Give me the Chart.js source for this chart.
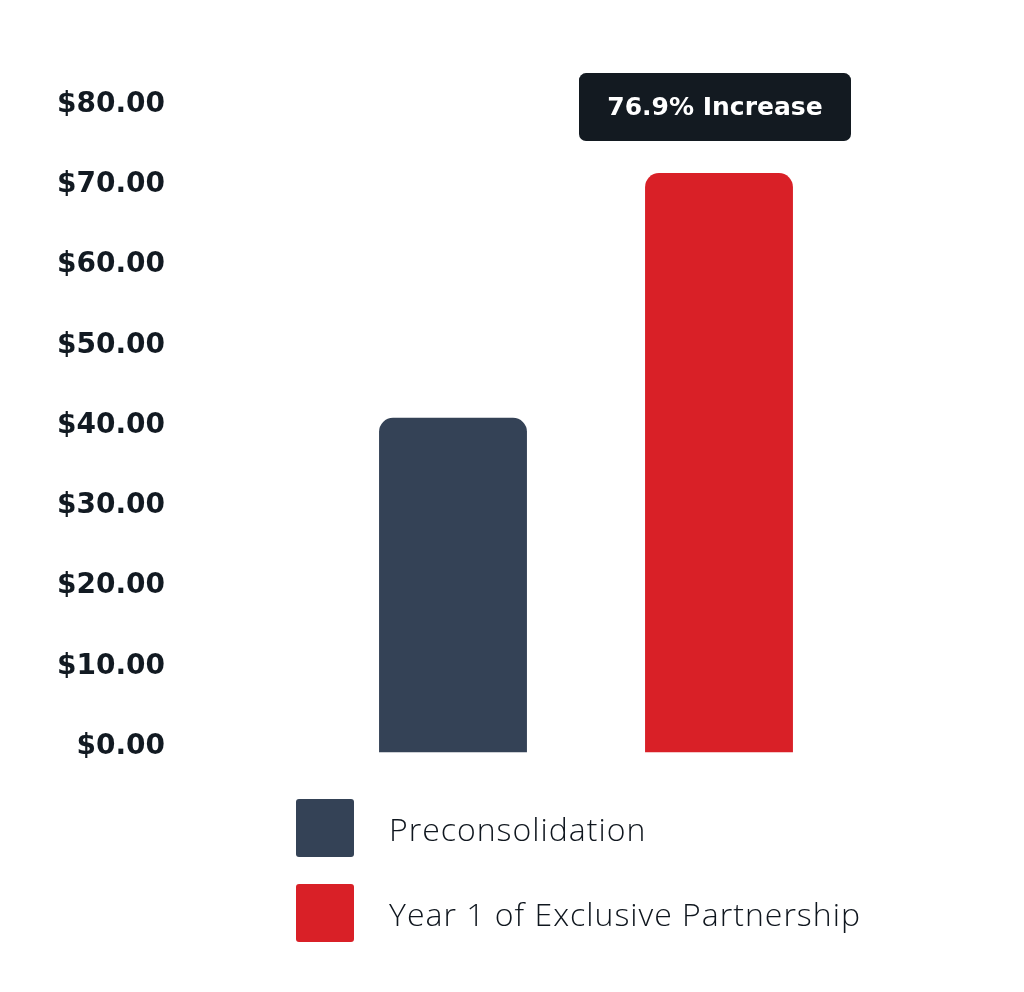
<!DOCTYPE html>
<html>
<head>
<meta charset="utf-8">
<script src="https://cdn.jsdelivr.net/npm/chart.js@4.4.1/dist/chart.umd.min.js"></script>
<style>
  html, body { margin: 0; padding: 0; background: #ffffff; }
  #wrap { position: relative; width: 1024px; height: 992px; }
  canvas { display: block; }
  #legend { position: absolute; left: 296px; top: 799px; font-family: "Open Sans", sans-serif; font-weight: 300; font-size: 32px; letter-spacing: 1px; color: #0f161e; }
  .item { display: flex; align-items: center; height: 58px; margin-bottom: 27px; }
  .sw { width: 58px; height: 58px; border-radius: 3px; margin-right: 35px; }
</style>
</head>
<body>
<div id="wrap">
  <canvas id="c" width="1024" height="992"></canvas>
  <div id="legend"></div>
</div>
<script>
const categories = ["Preconsolidation", "Year 1 of Exclusive Partnership"];
const values = [41.7, 72.2];
const barColors = ["#344256", "#d92027"];
const tickValues = [0, 10, 20, 30, 40, 50, 60, 70, 80];
const annotationText = "76.9% Increase";

const annotationPlugin = {
  id: "increaseLabel",
  afterDatasetsDraw(chart) {
    const bar = chart.getDatasetMeta(0).data[1];
    const ctx = chart.ctx;
    const w = 272, h = 68;
    const cx = bar.x - 4;
    const bottom = bar.y - 32;
    ctx.save();
    ctx.fillStyle = "#131a21";
    ctx.beginPath();
    ctx.roundRect(cx - w / 2, bottom - h, w, h, 7);
    ctx.fill();
    ctx.fillStyle = "#ffffff";
    ctx.font = "bold 25px 'DejaVu Sans'";
    ctx.textAlign = "center";
    ctx.textBaseline = "middle";
    ctx.fillText(annotationText, cx, bottom - h / 2 + 1);
    ctx.restore();
  }
};

new Chart(document.getElementById("c"), {
  type: "bar",
  data: {
    labels: categories,
    datasets: [{
      data: values,
      backgroundColor: barColors,
      borderRadius: 14,
      borderSkipped: "bottom",
      categoryPercentage: 1,
      barPercentage: 0.556
    }]
  },
  options: {
    responsive: false,
    animation: false,
    devicePixelRatio: 1,
    layout: { padding: { left: 0, right: 172, top: 110.5, bottom: 239.5 } },
    plugins: { legend: { display: false }, tooltip: { enabled: false } },
    scales: {
      x: { display: false },
      y: {
        min: 0,
        max: 80,
        afterFit(scale) {
          scale.width = 320;
          scale.paddingTop = 0;
          scale.paddingBottom = 0;
        },
        afterBuildTicks(scale) { scale.ticks = tickValues.map(v => ({ value: v })); },
        grid: { display: false, drawTicks: false },
        border: { display: false },
        ticks: {
          padding: 155,
          labelOffset: -6,
          color: "#121a22",
          font: { family: "'DejaVu Sans'", weight: "bold", size: 28 },
          callback: v => "$" + Number(v).toFixed(2)
        }
      }
    }
  },
  plugins: [annotationPlugin]
});

const legend = document.getElementById("legend");
categories.forEach((name, i) => {
  const item = document.createElement("div");
  item.className = "item";
  const sw = document.createElement("div");
  sw.className = "sw";
  sw.style.background = barColors[i];
  const label = document.createElement("span");
  label.textContent = name;
  item.appendChild(sw);
  item.appendChild(label);
  legend.appendChild(item);
});
</script>
</body>
</html>
